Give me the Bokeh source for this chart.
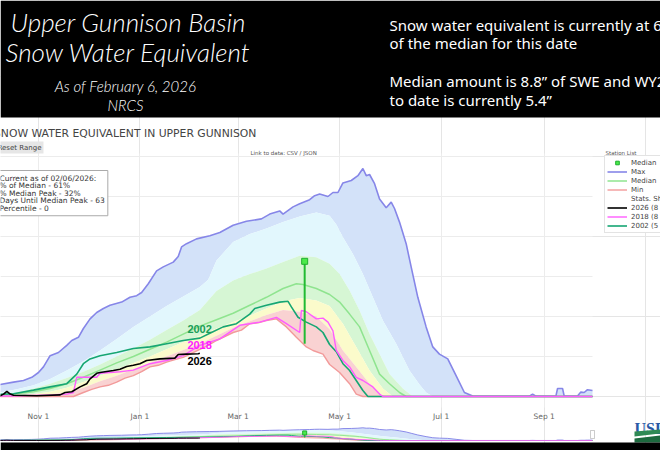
import numpy as np
import pandas as pd
from bokeh.plotting import figure
from bokeh.models import (Range1d, Label, Legend, LegendItem, Grid, SingleIntervalTicker,
                          MonthsTicker, PolyAnnotation, BoxAnnotation)
from bokeh.core.properties import value
from bokeh.embed import file_html
from bokeh.resources import INLINE

# ---------------------------------------------------------------------------
# Upper Gunnison basin SWE (inches); x values are days since Oct 1, 2025
# ---------------------------------------------------------------------------
WY_START = pd.Timestamp("2025-10-01")
REPORT_DATE = pd.Timestamp("2026-02-06")

max_day = [0, 8, 16, 22, 27, 31, 34, 38, 43, 48, 51, 55, 58, 62, 66, 70, 74, 81, 86, 90,
           93, 97, 102, 106, 112, 115, 117, 120, 126, 134, 140, 148, 156, 165, 170, 176,
           178, 184, 188, 194, 197, 200, 205, 208, 211, 214, 219, 223, 226, 228, 230, 233,
           236, 240, 243, 245, 248, 252, 255, 259, 264, 268, 272, 277, 282, 287, 292, 326,
           328, 330, 342, 343, 346, 347, 355, 357, 359, 361, 364]
max_swe = [1.2, 1.5, 1.8, 2.0, 2.4, 3.0, 3.7, 5.1, 5.5, 6.4, 7.0, 7.4, 8.5, 9.7, 10.5, 11.0,
           11.4, 11.8, 12.4, 12.6, 13.0, 14.1, 15.7, 16.2, 16.8, 17.5, 18.7, 19.1, 19.7, 20.1,
           20.5, 21.4, 21.9, 22.2, 22.8, 23.2, 22.8, 23.7, 24.1, 24.6, 25.1, 25.3, 25.0, 25.5,
           25.5, 26.7, 27.0, 27.6, 28.5, 27.6, 27.75, 26.6, 24.7, 23.6, 24.3, 23.5, 21.8, 19.1,
           16.2, 12.4, 8.7, 6.2, 5.3, 4.7, 2.6, 0.5, 0.05, 0.05, 0.3, 0.05, 0.05, 1.0, 1.0,
           0.05, 0.05, 0.55, 0.5, 0.85, 0.75]

p90_day = [0, 8, 18, 28, 38, 48, 58, 68, 78, 88, 98, 108, 118, 128, 133, 138, 148, 158, 168,
           178, 188, 198, 206, 210, 214, 220, 226, 232, 238, 246, 254, 260, 264, 268, 364]
p90_swe = [0.3, 0.5, 0.9, 1.4, 2.2, 3.25, 4.4, 5.75, 7.2, 8.7, 10.0, 11.3, 12.5, 13.7, 14.6,
           17.0, 19.3, 20.3, 21.0, 21.8, 22.5, 23.0, 22.6, 21.5, 19.9, 17.8, 15.3, 12.4, 9.5,
           6.6, 3.25, 1.5, 0.5, 0, 0]

p70_day = [0, 8, 18, 28, 38, 48, 58, 68, 78, 88, 98, 108, 118, 128, 138, 148, 158, 168, 178,
           188, 198, 206, 212, 218, 224, 230, 236, 242, 250, 256, 364]
p70_swe = [0.15, 0.2, 0.5, 1.0, 1.6, 2.3, 3.1, 4.0, 5.0, 6.0, 7.1, 8.3, 9.5, 10.8, 13.2, 14.5,
           15.3, 16.0, 16.8, 17.6, 17.4, 16.6, 15.3, 13.25, 10.75, 7.8, 5.3, 2.8, 1.0, 0, 0]

median_day = [0, 8, 18, 28, 38, 48, 58, 68, 78, 88, 98, 108, 118, 128, 138, 148, 158, 168,
              178, 186, 190, 198, 206, 212, 218, 224, 230, 236, 242, 248, 252, 364]
median_swe = [0.1, 0.15, 0.35, 0.6, 1.0, 1.6, 2.4, 3.3, 4.2, 5.0, 5.9, 6.8, 7.8, 8.8, 9.6,
              10.4, 11.4, 12.4, 13.5, 14.1, 14.0, 13.5, 12.75, 11.8, 10.3, 8.7, 5.75, 2.8,
              1.6, 0.5, 0.0, 0.0]

p30_day = [0, 18, 28, 38, 48, 58, 68, 78, 88, 98, 108, 118, 128, 138, 148, 158, 168, 178, 188,
           198, 206, 214, 222, 230, 238, 244, 364]
p30_swe = [0, 0.1, 0.3, 0.6, 1.1, 1.8, 2.6, 3.4, 4.2, 5.0, 5.9, 6.8, 7.6, 8.5, 9.3, 10.1, 11.0,
           11.9, 12.3, 12.0, 11.3, 9.1, 6.2, 3.25, 1.0, 0, 0]

p10_day = [0, 28, 38, 48, 58, 68, 78, 88, 98, 108, 118, 128, 138, 148, 158, 168, 178, 188, 198,
           206, 214, 222, 230, 236, 240, 364]
p10_swe = [0, 0.1, 0.25, 0.5, 1.1, 1.9, 2.6, 3.4, 4.2, 5.0, 5.8, 6.6, 7.6, 8.6, 9.4, 10.2, 10.8,
           10.6, 10.0, 8.4, 5.75, 3.7, 1.6, 0.3, 0, 0]

min_day = [0, 52, 58, 63, 68, 73, 78, 83, 88, 93, 98, 103, 108, 113, 118, 123, 128, 133, 138,
           143, 148, 153, 158, 163, 168, 174, 180, 186, 192, 196, 202, 206, 212, 218, 222, 226,
           364]
min_swe = [0, 0, 0.5, 0.9, 1.2, 1.4, 1.8, 2.3, 2.6, 3.1, 3.7, 3.9, 4.3, 4.6, 4.9, 5.4, 5.9, 6.4,
           7.0, 7.5, 8.0, 8.3, 9.1, 9.2, 9.5, 9.7, 8.7, 7.4, 6.2, 5.75, 5.3, 4.0, 3.0, 1.6, 0.3,
           0, 0]

wy2026_day = [0, 8, 10, 12, 14, 16, 30, 44, 47, 51, 56, 60, 62, 66, 68, 76, 80, 84, 88, 92, 96,
              104, 113, 115, 120, 127, 128]
wy2026_swe = [0.05, 0.1, 0.3, 0.65, 0.3, 0.15, 0.1, 0.2, 0.5, 0.6, 1.2, 1.6, 2.2, 2.9, 3.0,
              3.25, 3.4, 3.75, 3.9, 4.1, 4.5, 4.7, 4.8, 5.25, 5.3, 5.35, 5.4]

wy2018_day = [0, 20, 40, 48, 52, 54, 66, 68, 80, 88, 98, 108, 118, 128, 140, 152, 164, 174, 180,
              188, 189, 192, 198, 202, 205, 208, 210, 214, 218, 222, 226, 232, 236, 238, 364]
wy2018_swe = [0.05, 0.1, 0.2, 0.3, 0.5, 2.4, 2.4, 2.9, 3.1, 3.3, 4.1, 4.5, 5.1, 6.4, 7.2, 8.9,
              9.3, 9.9, 9.1, 8.0, 10.75, 10.6, 9.7, 9.8, 9.3, 8.2, 5.75, 4.5, 3.7, 2.4, 2.0, 1.2,
              0.3, 0, 0]

wy2002_day = [0, 16, 28, 38, 48, 54, 58, 62, 68, 78, 88, 98, 108, 118, 128, 134, 142, 150, 158,
              161, 168, 176, 181, 183, 187, 192, 198, 202, 206, 210, 214, 218, 222, 226, 229,
              364]
wy2002_swe = [0.2, 0.35, 0.8, 1.2, 1.6, 2.8, 4.1, 4.7, 5.1, 5.5, 6.0, 6.2, 6.6, 7.0, 7.3, 7.9,
              8.7, 9.1, 10.3, 11.0, 11.4, 11.8, 11.9, 11.2, 9.9, 9.3, 8.7, 8.0, 6.5, 5.6, 4.1,
              3.25, 2.0, 0.75, 0, 0]

# median peak statistics
median_peak_swe = 16.9
days_to_median_peak = 63
peak_bar_low = 6.6
percentile_now = 0

# year labels beside the current-season lines
year_labels = ["2002", "2018", "2026"]
year_label_colors = ["#1a9e57", "#ff1dff", "#000000"]
year_label_day = 120.5
year_label_swe = [8.5, 6.5, 4.5]

# x-axis ticks (every other month)
tick_dates = pd.date_range("2025-11-01", "2026-09-01", freq="2MS")
tick_labels = [f"{d:%b} {d.day}" for d in tick_dates]


def dates(days):
    return (WY_START + pd.to_timedelta(np.asarray(days, dtype=float), unit="D")).to_numpy()


def ms(ts):
    return ts.value / 1e6


today = (REPORT_DATE - WY_START).days
current_swe = wy2026_swe[-1]
median_today = median_swe[median_day.index(today)]
pct_of_median = round(100 * current_swe / median_today)
pct_median_peak = round(100 * current_swe / median_peak_swe)
peak_date = REPORT_DATE + pd.Timedelta(days=days_to_median_peak)

# ---------------------------------------------------------------------------
# Page geometry (pixels, top-left origin) -> data ranges of one full-page figure
# ---------------------------------------------------------------------------
W, H = 660, 450
PX_PER_DAY = 1.6637
FIRST_DAY = 8.17          # day shown at the left edge
CHART_RIGHT = 592         # px where the chart area ends (Sep 30)
ZERO_Y, PX_PER_IN = 396, 8.0
CHART_TOP, CHART_BOTTOM = 153, 407
MINI_ZERO_Y, MINI_PX_PER_IN = 440, 0.446

x_start = WY_START + pd.Timedelta(days=FIRST_DAY)
x_end = WY_START + pd.Timedelta(days=FIRST_DAY + W / PX_PER_DAY)
x_chart_end = WY_START + pd.Timedelta(days=FIRST_DAY + CHART_RIGHT / PX_PER_DAY)
y_lo, y_hi = -(H - ZERO_Y) / PX_PER_IN, ZERO_Y / PX_PER_IN
chart_y_lo = -(CHART_BOTTOM - ZERO_Y) / PX_PER_IN
chart_y_hi = (ZERO_Y - CHART_TOP) / PX_PER_IN


def sy(img_y):
    """screen y measured up from the bottom edge"""
    return H - img_y


p = figure(width=W, height=H, x_axis_type="datetime", x_range=Range1d(x_start, x_end),
           y_range=Range1d(y_lo, y_hi), x_axis_location=None, y_axis_location=None,
           toolbar_location=None, output_backend="svg", min_border=0,
           background_fill_color="white", border_fill_color="white",
           outline_line_color=None)
p.extra_y_ranges = {"mini": Range1d(-(H - MINI_ZERO_Y) / MINI_PX_PER_IN,
                                    MINI_ZERO_Y / MINI_PX_PER_IN)}

p.add_layout(Grid(dimension=0, ticker=MonthsTicker(months=[0, 2, 4, 6, 8, 10]),
                  bounds=(ms(x_start), ms(x_chart_end)),
                  cross_bounds=(chart_y_lo, chart_y_hi), grid_line_color="#ececec"))
p.add_layout(Grid(dimension=1, ticker=SingleIntervalTicker(interval=5),
                  bounds=(chart_y_lo, chart_y_hi),
                  cross_bounds=(ms(x_start), ms(x_chart_end)), grid_line_color="#ececec"))

BANDS = [
    (p90_day, p90_swe, max_day, max_swe, "#d3e2f9"),
    (p70_day, p70_swe, p90_day, p90_swe, "#e2f7fd"),
    (p30_day, p30_swe, p70_day, p70_swe, "#d6f6d4"),
    (p10_day, p10_swe, p30_day, p30_swe, "#fbfbcb"),
    (min_day, min_swe, p10_day, p10_swe, "#f9d2d2"),
]

C_MAX, C_MED, C_MIN = "#8686e8", "#8fe48f", "#f29a9a"
C_26, C_18, C_02 = "#000000", "#ff5cff", "#16a673"
C_PEAK = "#22bb33"


def draw_stats(fig, lw, yr="default"):
    for lo_d, lo_v, hi_d, hi_v, color in BANDS:
        xs = np.concatenate([dates(hi_d), dates(lo_d)[::-1]])
        ys = np.concatenate([np.asarray(hi_v, float), np.asarray(lo_v, float)[::-1]])
        fig.patch(xs, ys, fill_color=color, line_color=None, y_range_name=yr)
    r = {}
    r["max"] = fig.line(dates(max_day), max_swe, line_color=C_MAX, line_width=1.6 * lw,
                        y_range_name=yr)
    r["med"] = fig.line(dates(median_day), median_swe, line_color=C_MED,
                        line_width=1.5 * lw, y_range_name=yr)
    r["min"] = fig.line(dates(min_day), min_swe, line_color=C_MIN, line_width=1.4 * lw,
                        y_range_name=yr)
    r["y02"] = fig.line(dates(wy2002_day), wy2002_swe, line_color=C_02, line_width=1.6 * lw,
                        y_range_name=yr)
    r["y18"] = fig.line(dates(wy2018_day), wy2018_swe, line_color=C_18, line_width=1.4 * lw,
                        y_range_name=yr)
    r["y26"] = fig.line(dates(wy2026_day), wy2026_swe, line_color=C_26, line_width=1.6 * lw,
                        y_range_name=yr)
    fig.segment(x0=[peak_date], y0=[peak_bar_low], x1=[peak_date], y1=[median_peak_swe],
                line_color=C_PEAK, line_width=2 * lw, y_range_name=yr)
    r["peak"] = fig.scatter([peak_date], [median_peak_swe], marker="square",
                            size=5 * lw + 1, fill_color="#4bea4b", line_color="#1fae2f",
                            y_range_name=yr)
    return r


PLOT_FONT = "DejaVu Sans"

# ---------------------------------------------------------------- main chart
r = draw_stats(p, 1.0)
stats_r = p.line(x=[], y=[], line_color="#c8f2c8", line_width=5)

p.text(x=dates([year_label_day] * 3), y=year_label_swe, text=year_labels,
       text_color=year_label_colors, text_font=value("Liberation Sans"),
       text_font_style="bold", text_font_size="11px", text_baseline="middle",
       text_align="left")

# month tick labels under the chart
p.text(x=tick_dates.to_numpy(), y=[-(416 - ZERO_Y) / PX_PER_IN] * len(tick_dates),
       text=tick_labels, text_font=value(PLOT_FONT), text_font_size="7.5px",
       text_color="#666666", text_align="center", text_baseline="middle")

legend = Legend(items=[
    LegendItem(label="Median", renderers=[r["peak"]]),
    LegendItem(label="Max", renderers=[r["max"]]),
    LegendItem(label="Median", renderers=[r["med"]]),
    LegendItem(label="Min", renderers=[r["min"]]),
    LegendItem(label="Stats. Shading", renderers=[stats_r]),
    LegendItem(label="2026 (8 stations)", renderers=[r["y26"]]),
    LegendItem(label="2018 (8 stations)", renderers=[r["y18"]]),
    LegendItem(label="2002 (5 stations)", renderers=[r["y02"]]),
], location=(604, sy(233)), border_line_color="#c8c8c8", background_fill_color="white",
    background_fill_alpha=1.0, label_text_font=PLOT_FONT, label_text_font_size="7px",
    label_text_color="#444444", glyph_width=20, glyph_height=9, label_height=9, spacing=0,
    padding=2, margin=0, label_standoff=4)
p.add_layout(legend)


def label(x, img_y, text, **kw):
    opts = dict(x_units="screen", y_units="screen", text_font=PLOT_FONT,
                text_baseline="middle")
    opts.update(kw)
    p.add_layout(Label(x=x, y=sy(img_y), text=text, **opts))


label(-6.5, 133, "SNOW WATER EQUIVALENT IN UPPER GUNNISON", text_font_size="10.8px",
      text_color="#444444")
label(-5, 147, "Reset Range", text_font_size="7px", text_color="#444444",
      background_fill_color="#e6e6e6", padding=2)
label(250, 152, "Link to data: CSV / JSON", text_font_size="5.5px", text_color="#555555")
label(605, 152, "Station List", text_font_size="5.5px", text_color="#555555")

info_text = "\n".join([
    f"Current as of {REPORT_DATE:%m/%d/%Y}:",
    f"% of Median - {pct_of_median}%",
    f"% Median Peak - {pct_median_peak}%",
    f"Days Until Median Peak - {days_to_median_peak}",
    f"Percentile - {percentile_now}",
])
label(-4, 170, info_text, text_font_size="7.5px", text_color="#333333", text_baseline="top",
      text_line_height=0.84, background_fill_color="white", border_line_color="#aaaaaa",
      padding=3)

# ---------------------------------------------------------------- range slider
draw_stats(p, 0.6, yr="mini")
p.add_layout(PolyAnnotation(xs=[590, 594, 594, 590], ys=[sy(438), sy(438), sy(430), sy(430)],
                            xs_units="screen", ys_units="screen", fill_color="white",
                            fill_alpha=1, line_color="#555555", line_width=1))

# USDA mark
label(634, 428, "USDA", text_font="Liberation Serif", text_font_style="bold",
      text_font_size="16px", text_color="#2a5aa6", text_baseline="alphabetic")
p.add_layout(PolyAnnotation(xs=[634, 660, 660, 634], ys=[sy(431), sy(429), sy(433), sy(436)],
                            xs_units="screen", ys_units="screen", fill_color="#2f8a55",
                            fill_alpha=1, line_color=None))
p.add_layout(PolyAnnotation(xs=[634, 660, 660, 634], ys=[sy(438), sy(435), sy(442), sy(442)],
                            xs_units="screen", ys_units="screen", fill_color="#1d6a3f",
                            fill_alpha=1, line_color=None))

# ---------------------------------------------------------------- black header / footer
p.add_layout(BoxAnnotation(left=0, right=W, bottom=sy(117), top=sy(0), left_units="screen",
                           right_units="screen", bottom_units="screen", top_units="screen",
                           fill_color="black", fill_alpha=1, line_color=None))
p.add_layout(BoxAnnotation(left=0, right=W, bottom=sy(450), top=sy(442), left_units="screen",
                           right_units="screen", bottom_units="screen", top_units="screen",
                           fill_color="black", fill_alpha=1, line_color=None))

title_font = "Lato Light, Lato"
for x, y, txt in [(10, 21, "Upper Gunnison Basin"), (5, 51, "Snow Water Equivalent")]:
    label(x, y, txt, text_font=title_font, text_font_style="italic", text_font_size="26px",
          text_color="white", text_baseline="alphabetic")
for y, txt in [(85, f"As of {REPORT_DATE:%B} {REPORT_DATE.day}, {REPORT_DATE.year}"),
               (104, "NRCS")]:
    label(125, y, txt, text_font=title_font, text_font_style="italic", text_font_size="15px",
          text_color="white", text_align="center", text_baseline="alphabetic")

summary = [
    (24, f"Snow water equivalent is currently at {pct_of_median}%"),
    (42, "of the median for this date"),
    (80, f"Median amount is {median_today}\u201d of SWE and WY{REPORT_DATE.year}"),
    (99, f"to date is currently {current_swe}\u201d"),
]
for y, txt in summary:
    label(389, y, txt, text_font="Noto Sans", text_font_size="15px", text_color="white",
          text_baseline="alphabetic")

open("out.html", "w").write(file_html(p, INLINE))
